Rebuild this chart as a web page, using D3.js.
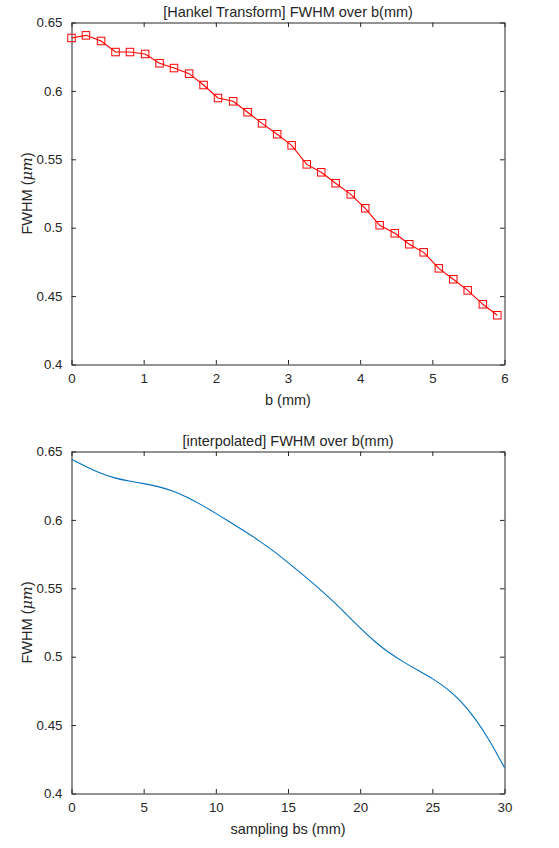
<!DOCTYPE html>
<html>
<head>
<meta charset="utf-8">
<script src="https://cdn.jsdelivr.net/npm/d3@7"></script>
<style>
  body { margin: 0; background: #fff; }
  svg { display: block; }
  text { font-family: "Liberation Sans", Arial, Helvetica, sans-serif; fill: #262626; }
</style>
</head>
<body>
<div id="chart"></div>
<script>
// top panel: Hankel transform samples
const bValues = [0, 0.20, 0.41, 0.61, 0.81, 1.02, 1.22, 1.42, 1.63, 1.83,
                 2.03, 2.24, 2.44, 2.64, 2.85, 3.05, 3.26, 3.46, 3.66, 3.87,
                 4.07, 4.27, 4.48, 4.68, 4.88, 5.09, 5.29, 5.49, 5.70, 5.90];
const fwhmHankel = [0.6387, 0.6406, 0.6365, 0.6284, 0.6284, 0.6270, 0.6202, 0.6167, 0.6126, 0.6043,
                    0.5948, 0.5924, 0.5844, 0.5763, 0.5683, 0.5602, 0.5463, 0.5405, 0.5325, 0.5244,
                    0.5142, 0.5018, 0.4959, 0.4879, 0.4820, 0.4703, 0.4623, 0.4542, 0.4440, 0.4360];

// bottom panel: interpolated curve
const bsValues = [0, 1, 2, 3, 4, 5, 6, 7, 8, 9, 10, 11, 12, 13, 14, 15,
                  16, 17, 18, 19, 20, 21, 22, 23, 24, 25, 26, 27, 28, 29, 30];
const fwhmInterp = [0.6444, 0.6390, 0.6340, 0.6305, 0.6283, 0.6266, 0.6245, 0.6213, 0.6167, 0.6111,
                    0.6048, 0.5983, 0.5917, 0.5848, 0.5773, 0.5688, 0.5602, 0.5513, 0.5418, 0.5315,
                    0.5210, 0.5110, 0.5028, 0.4961, 0.4900, 0.4842, 0.4770, 0.4675, 0.4545, 0.4385, 0.4188];

const topXTicks = [0, 1, 2, 3, 4, 5, 6];
const bottomXTicks = [0, 5, 10, 15, 20, 25, 30];
const yTicks = [0.4, 0.45, 0.5, 0.55, 0.6, 0.65];

const width = 559, height = 848;

const svg = d3.select('#chart').append('svg')
    .attr('width', width)
    .attr('height', height);

function drawPanel(cfg) {
    const x = d3.scaleLinear().domain(cfg.xDomain).range([71.5, 504.5]);
    const y = d3.scaleLinear().domain([0.4, 0.65]).range([cfg.bottom, cfg.top]);
    const g = svg.append('g');
    const tickLen = 4.5;

    // inward ticks on all four sides (MATLAB box style)
    const xAxisB = d3.axisBottom(x).tickValues(cfg.xTicks).tickSizeInner(-tickLen).tickSizeOuter(0)
        .tickPadding(9).tickFormat(d3.format('~g'));
    const xAxisT = d3.axisTop(x).tickValues(cfg.xTicks).tickSizeInner(-tickLen).tickSizeOuter(0)
        .tickFormat('');
    const yAxisL = d3.axisLeft(y).tickValues(yTicks).tickSizeInner(-tickLen).tickSizeOuter(0)
        .tickPadding(9).tickFormat(d3.format('~g'));
    const yAxisR = d3.axisRight(y).tickValues(yTicks).tickSizeInner(-tickLen).tickSizeOuter(0)
        .tickFormat('');

    const axes = [
        g.append('g').attr('transform', `translate(0,${cfg.bottom})`).call(xAxisB),
        g.append('g').attr('transform', `translate(0,${cfg.top})`).call(xAxisT),
        g.append('g').attr('transform', `translate(71.5,0)`).call(yAxisL),
        g.append('g').attr('transform', `translate(504.5,0)`).call(yAxisR)
    ];
    axes.forEach(a => {
        a.select('.domain').attr('stroke', '#262626');
        a.selectAll('.tick line').attr('stroke', '#262626');
        a.selectAll('.tick text').style('font-size', '13.3px').attr('fill', '#262626');
    });

    // title
    g.append('text')
        .attr('x', 288).attr('y', cfg.top - 6)
        .attr('text-anchor', 'middle')
        .style('font-size', '14.5px')
        .attr('fill', '#000')
        .text(cfg.title);

    // x label
    g.append('text')
        .attr('x', 288).attr('y', cfg.bottom + 40)
        .attr('text-anchor', 'middle')
        .style('font-size', '14.5px')
        .text(cfg.xLabel);

    // y label with italic mu
    const yl = g.append('text')
        .attr('transform', `translate(32,${(cfg.top + cfg.bottom) / 2}) rotate(-90)`)
        .attr('text-anchor', 'middle')
        .style('font-size', '14.5px');
    yl.append('tspan').text('FWHM (');
    yl.append('tspan').style('font-style', 'italic').style('font-family', '"DejaVu Serif", serif').text('\u03bc');
    yl.append('tspan').style('font-style', 'italic').style('font-family', '"DejaVu Serif", serif').text('m');
    yl.append('tspan').text(')');

    const pts = cfg.xs.map((v, i) => [v, cfg.ys[i]]);
    const line = d3.line()
        .x(d => x(d[0]))
        .y(d => y(d[1]))
        .curve(cfg.curve);

    g.append('path')
        .datum(pts)
        .attr('d', line)
        .attr('fill', 'none')
        .attr('stroke', cfg.color)
        .attr('stroke-width', 1.1);

    if (cfg.markers) {
        const s = 7.5;
        g.selectAll('.marker')
            .data(pts)
            .enter().append('rect')
            .attr('class', 'marker')
            .attr('x', d => x(d[0]) - s / 2)
            .attr('y', d => y(d[1]) - s / 2)
            .attr('width', s)
            .attr('height', s)
            .attr('fill', 'none')
            .attr('stroke', cfg.color)
            .attr('stroke-width', 1);
    }
}

drawPanel({
    xDomain: [0, 6], xTicks: topXTicks, top: 22.5, bottom: 364.5,
    title: '[Hankel Transform] FWHM over b(mm)', xLabel: 'b (mm)',
    xs: bValues, ys: fwhmHankel, color: '#ff0000', markers: true, curve: d3.curveLinear
});

drawPanel({
    xDomain: [0, 30], xTicks: bottomXTicks, top: 451.5, bottom: 793.5,
    title: '[interpolated] FWHM over b(mm)', xLabel: 'sampling bs (mm)',
    xs: bsValues, ys: fwhmInterp, color: '#0072bd', markers: false, curve: d3.curveBasis
});
</script>
</body>
</html>
